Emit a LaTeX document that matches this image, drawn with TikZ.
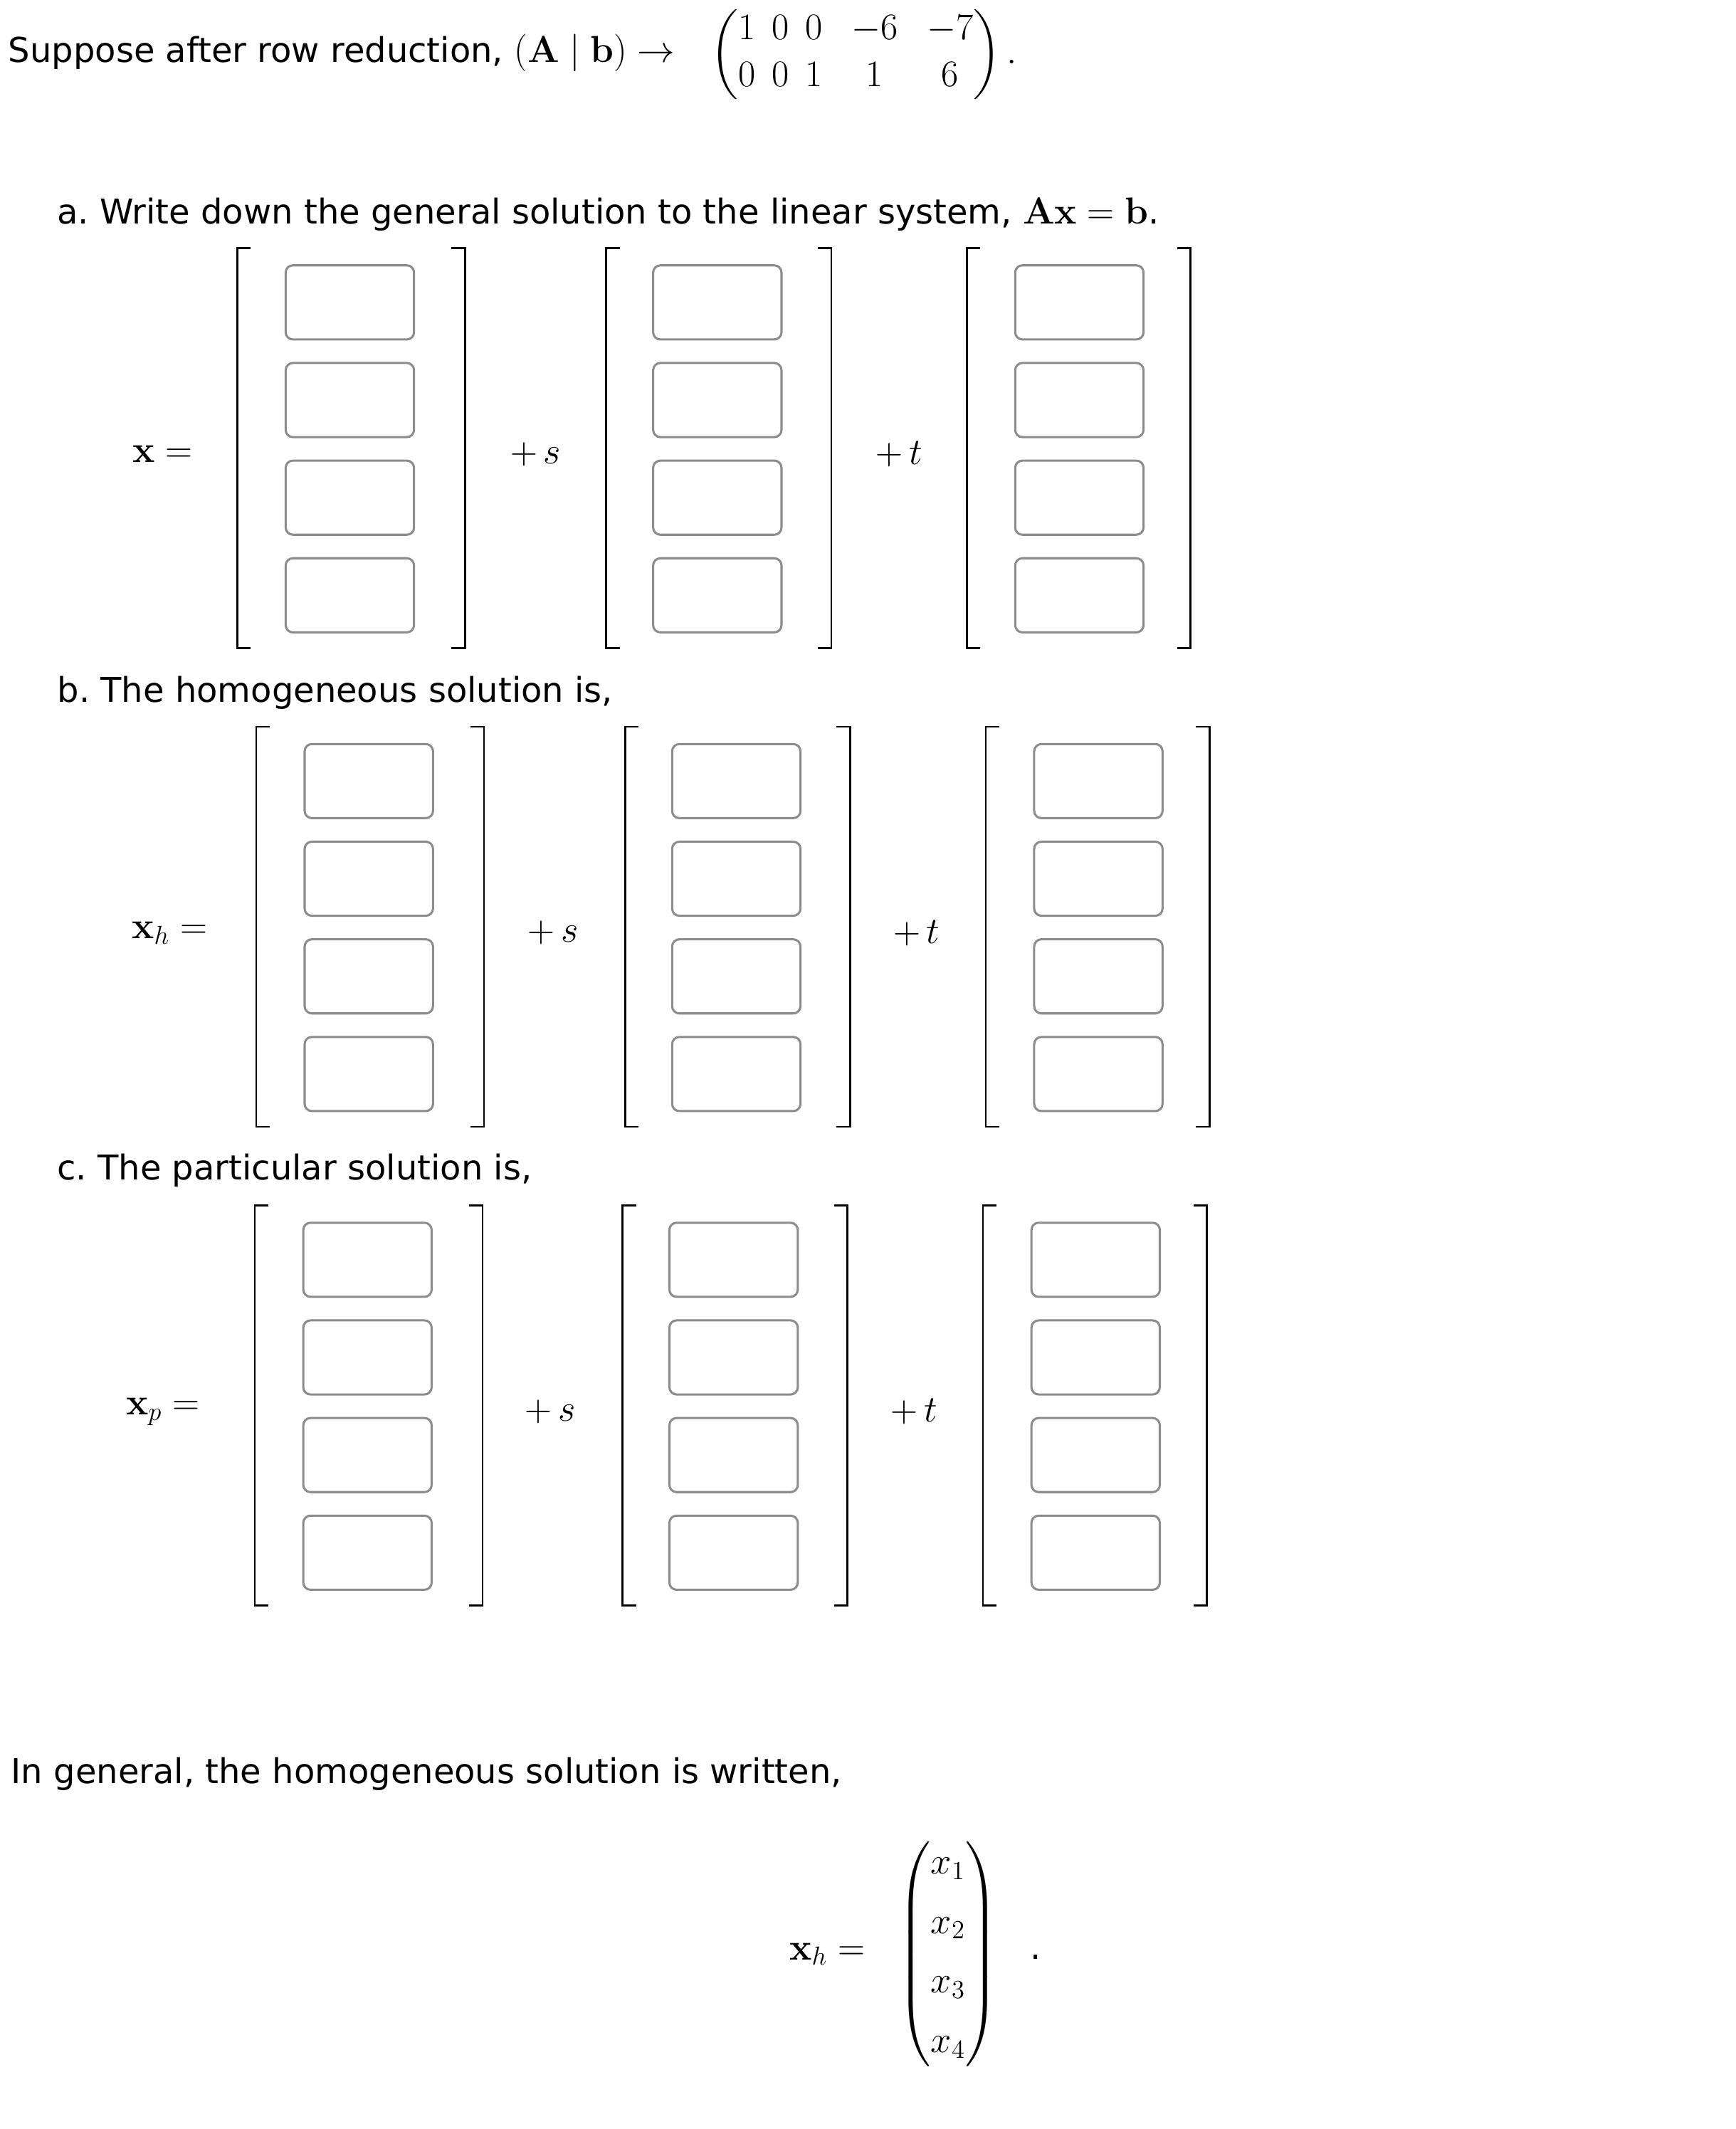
\documentclass[tikz,border=0pt]{standalone}
\usepackage{amsmath}
\usepackage[no-math]{fontspec}
\setmainfont{DejaVu Sans}[Scale=0.9]
\begin{document}
\begin{tikzpicture}[x=0.75pt,y=-0.75pt,
  txt/.style={inner sep=0pt,font=\fontsize{21}{25}\selectfont},
  ibox/.style={draw=black!45,line width=1.2pt,rounded corners=4pt,minimum width=71pt,minimum height=41pt,inner sep=0pt},
  brk/.style={line width=1pt}]
\useasboundingbox (0,0) rectangle (1280,1570);
\node[txt,anchor=base west] (t0) at (6,46) {Suppose after row reduction, $(\mathbf{A}\mid\mathbf{b})\to$};
\node[txt,anchor=west] (m0) at (524,40) {$\left(\begin{array}{@{}c@{\hspace{9pt}}c@{\hspace{9pt}}c@{\hspace{16pt}}c@{\hspace{16pt}}c@{}}1&0&0&-6&-7\\[1pt]0&0&1&1&6\end{array}\right).$};
\node[txt,anchor=base west] (ta) at (42,165) {a.\ Write down the general solution to the linear system, $\mathbf{Ax}=\mathbf{b}$.};
\node[txt,anchor=base west] (tb) at (42,518) {b.\ The homogeneous solution is,};
\node[txt,anchor=base west] (tc) at (42,870) {c.\ The particular solution is,};
\node[txt,anchor=base west] (td) at (8,1315) {In general, the homogeneous solution is written,};
\foreach \g/\yo/\lx/\lab/\ca/\cb/\cc/\sx/\tx in {A/0/120/{\mathbf{x}=}/258/529/796/395/663,
  B/353/125/{\mathbf{x}_h=}/272/543/810/408/676,
  C/706/120/{\mathbf{x}_p=}/271/541/808/406/674}{
  \node[txt] (lab\g) at (\lx,335+\yo) {$\lab$};
  \node[txt] (s\g) at (\sx,335+\yo) {$+\,s$};
  \node[txt] (t\g) at (\tx,335+\yo) {$+\,t$};
  \foreach \c/\cx in {1/\ca,2/\cb,3/\cc}{
    \foreach \r in {0,1,2,3}{
      \node[ibox] (b\g\c\r) at (\cx,223+72*\r+\yo) {};
    }
  }
  \draw[brk] (\ca-73,183+\yo) -- (\ca-83,183+\yo) -- (\ca-83,478+\yo) -- (\ca-73,478+\yo);
  \draw[brk] (\ca+75,183+\yo) -- (\ca+85,183+\yo) -- (\ca+85,478+\yo) -- (\ca+75,478+\yo);
  \draw[brk] (\cb-72,183+\yo) -- (\cb-82,183+\yo) -- (\cb-82,478+\yo) -- (\cb-72,478+\yo);
  \draw[brk] (\cb+74,183+\yo) -- (\cb+84,183+\yo) -- (\cb+84,478+\yo) -- (\cb+74,478+\yo);
  \draw[brk] (\cc-73,183+\yo) -- (\cc-83,183+\yo) -- (\cc-83,478+\yo) -- (\cc-73,478+\yo);
  \draw[brk] (\cc+72,183+\yo) -- (\cc+82,183+\yo) -- (\cc+82,478+\yo) -- (\cc+72,478+\yo);
}
\node[txt] (labD) at (610,1441) {$\mathbf{x}_h=$};
\node[txt,anchor=west] (vD) at (662,1441) {$\left(\begin{array}{@{}c@{}}x_1\\[8pt]x_2\\[8pt]x_3\\[8pt]x_4\end{array}\right)$};
\node[txt] (pD) at (764,1443) {.};
\end{tikzpicture}
\end{document}
